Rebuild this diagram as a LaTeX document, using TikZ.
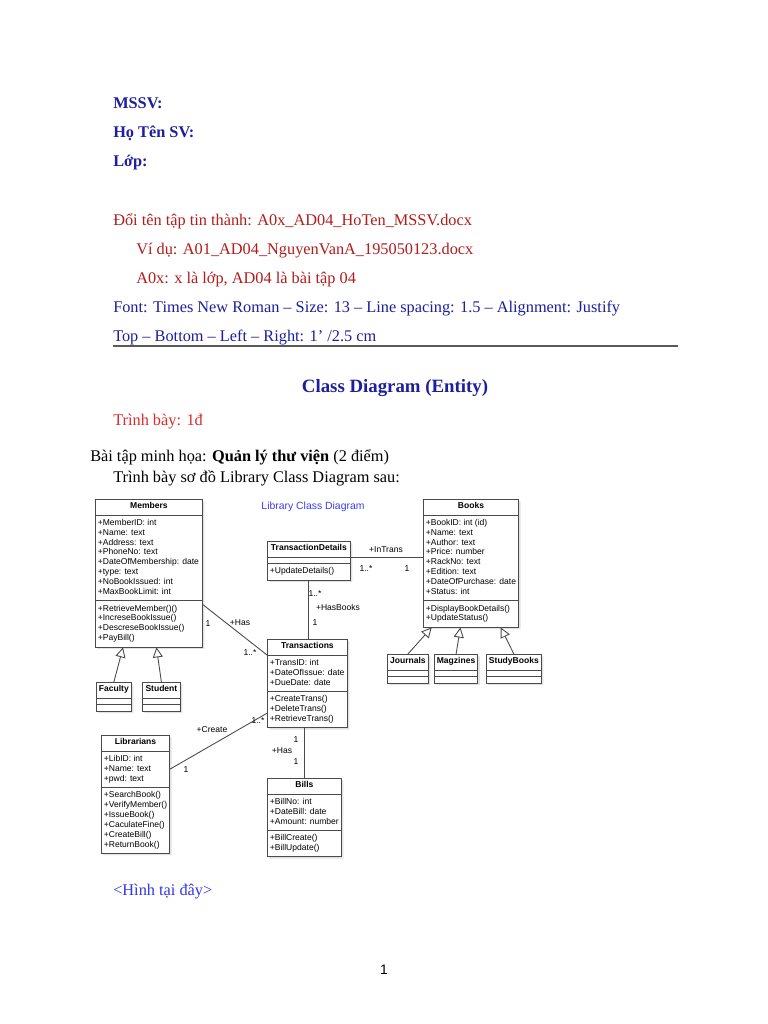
\documentclass[tikz,border=0pt]{standalone}
\usepackage{fontspec}
\setmainfont{Liberation Serif}
\newfontfamily\umlsans{Liberation Sans}
\usepackage{tikz}
\usetikzlibrary{
    arrows.meta,
    calc,
    positioning,
    shadows,
    shapes.multipart
}
\definecolor{docblue}{HTML}{1E1E9E}
\definecolor{docred}{HTML}{B21C1C}
\definecolor{hintred}{HTML}{E02A2A}
\definecolor{linkblue}{HTML}{3535E8}
\definecolor{diagblue}{HTML}{3C3CF5}
\definecolor{umlgray}{HTML}{4A4A4A}
\newcommand{\umlfont}{\umlsans\fontsize{6.8}{7.9}\selectfont}
\newcommand{\classhead}[1]{\rule[-2.3pt]{0pt}{7pt}\textbf{#1}}
\newcommand{\umlrows}[1]{\begin{tabular}{@{}l@{}}#1\end{tabular}}
\newcommand{\blankpart}{\rule{1pt}{0pt}}
\tikzstyle{assoc}=[draw=umlgray,line width=0.7pt]
\tikzstyle{inherit}=[draw=umlgray,line width=0.7pt,-{Triangle[open,length=8pt,width=8pt]}]

\begin{document}
\begin{tikzpicture}[
    x=0.797pt, y=-0.797pt,
    umlclass/.style={
        rectangle split,
        rectangle split parts=3,
        rectangle split part align={center,left,left},
        draw=umlgray,
        fill=white,
        line width=0.6pt,
        inner xsep=2pt,
        inner ysep=2.3pt,
        anchor=north west,
        font=\umlfont,
        drop shadow={shadow xshift=1.6pt,shadow yshift=-1.6pt,fill=black!22}
    },
    doctext/.style={
        anchor=base west,
        inner sep=0pt,
        font=\fontsize{13}{15}\selectfont
    },
    mult/.style={inner sep=0.5pt,font=\umlfont}
]
\useasboundingbox (0,0) rectangle (768,1024);
\fill[white] (0,0) rectangle (768,1024);

% header of the page
\node[doctext,text=docblue,font=\fontsize{13}{15}\selectfont\bfseries] (mssv) at (113,108) {MSSV:};
\node[doctext,text=docblue,font=\fontsize{13}{15}\selectfont\bfseries] (hoten) at (113,137) {Họ Tên SV:};
\node[doctext,text=docblue,font=\fontsize{13}{15}\selectfont\bfseries] (lop) at (113,166) {Lớp:};
\node[doctext,text=docred] (rename) at (113,225) {Đổi tên tập tin thành: A0x\_AD04\_HoTen\_MSSV.docx};
\node[doctext,text=docred] (example) at (136,254) {Ví dụ: A01\_AD04\_NguyenVanA\_195050123.docx};
\node[doctext,text=docred] (meaning) at (136,283) {A0x: x là lớp, AD04 là bài tập 04};
\node[doctext,text=docblue] (fontrule) at (113,312) {Font: Times New Roman – Size: 13 – Line spacing: 1.5 – Alignment: Justify};
\node[doctext,text=docblue] (margins) at (113,341) {Top – Bottom – Left – Right: 1’ /2.5 cm};
\coordinate (ruleL) at (113,346);
\coordinate (ruleR) at (678,346);
\draw[line width=1.4pt,draw=black!65] (ruleL) -- (ruleR);

\node[anchor=base,inner sep=0pt,text=docblue,font=\fontsize{15}{17}\selectfont\bfseries] (title) at (395,392) {Class Diagram (Entity)};
\node[doctext,text=hintred] (score) at (113,425) {Trình bày: 1đ};
\node[doctext] (task) at (90,461) {Bài tập minh họa: \textbf{Quản lý thư viện} (2 điểm)};
\node[doctext] (taskline) at (113,482) {Trình bày sơ đồ Library Class Diagram sau:};

% the class diagram
\node[inner sep=0pt,text=diagblue,font=\umlsans\fontsize{8.3}{10}\selectfont] (diagname) at (313,507) {Library Class Diagram};

\node[umlclass,minimum width=85.3pt] (members) at (95,499)
{\classhead{Members}
\nodepart{two}\umlrows{+MemberID: int\\+Name: text\\+Address: text\\+PhoneNo: text\\+DateOfMembership: date\\+type: text\\+NoBookIssued: int\\+MaxBookLimit: int}
\nodepart{three}\umlrows{+RetrieveMember()()\\+IncreseBookIssue()\\+DescreseBookIssue()\\+PayBill()}};

\node[umlclass,minimum width=66.2pt] (details) at (267,541)
{\classhead{TransactionDetails}
\nodepart{two}\blankpart
\nodepart{three}\umlrows{+UpdateDetails()}};

\node[umlclass,minimum width=74.9pt] (books) at (423,499)
{\classhead{Books}
\nodepart{two}\umlrows{+BookID: int (id)\\+Name: text\\+Author: text\\+Price: number\\+RackNo: text\\+Edition: text\\+DateOfPurchase: date\\+Status: int}
\nodepart{three}\umlrows{+DisplayBookDetails()\\+UpdateStatus()}};

\node[umlclass,minimum width=32.7pt] (journals) at (387,654) {\classhead{Journals}\nodepart{two}\blankpart\nodepart{three}\blankpart};
\node[umlclass,minimum width=34.3pt] (magzines) at (434,654) {\classhead{Magzines}\nodepart{two}\blankpart\nodepart{three}\blankpart};
\node[umlclass,minimum width=43.8pt] (studybooks) at (486,654) {\classhead{StudyBooks}\nodepart{two}\blankpart\nodepart{three}\blankpart};

\node[umlclass,minimum width=27.9pt] (faculty) at (96,682) {\classhead{Faculty}\nodepart{two}\blankpart\nodepart{three}\blankpart};
\node[umlclass,minimum width=30.3pt] (student) at (142,682) {\classhead{Student}\nodepart{two}\blankpart\nodepart{three}\blankpart};

\node[umlclass,minimum width=63.8pt] (transactions) at (267,639)
{\classhead{Transactions}
\nodepart{two}\umlrows{+TransID: int\\+DateOfIssue: date\\+DueDate: date}
\nodepart{three}\umlrows{+CreateTrans()\\+DeleteTrans()\\+RetrieveTrans()}};

\node[umlclass,minimum width=54.2pt] (librarians) at (101,735)
{\classhead{Librarians}
\nodepart{two}\umlrows{+LibID: int\\+Name: text\\+pwd: text}
\nodepart{three}\umlrows{+SearchBook()\\+VerifyMember()\\+IssueBook()\\+CaculateFine()\\+CreateBill()\\+ReturnBook()}};

\node[umlclass,minimum width=59pt] (bills) at (267,778)
{\classhead{Bills}
\nodepart{two}\umlrows{+BillNo: int\\+DateBill: date\\+Amount: number}
\nodepart{three}\umlrows{+BillCreate()\\+BillUpdate()}};

% associations
\draw[assoc] ([yshift=-3pt]members.two split east) -- (transactions.text split west)
    node[mult] at (208,624) {1}
    node[mult] at (240,623) {+Has}
    node[mult] at (250,653) {1..*};
\draw[assoc] (details.south) -- (details.south |- transactions.north)
    node[mult] at (315,594) {1..*}
    node[mult] at (338,607) {+HasBooks}
    node[mult] at (315,623) {1};
\draw[assoc] (details.text split east) -- (details.text split east -| books.west)
    node[mult] at (386,550) {+InTrans}
    node[mult] at (366,569) {1..*}
    node[mult] at (407,569) {1};
\draw[assoc] ($(librarians.text split east)!0.5!(librarians.two split east)$)
    -- ($(transactions.two split west)!0.6!(transactions.south west)$)
    node[mult] at (212,730) {+Create}
    node[mult] at (258,721) {1..*}
    node[mult] at (186,770) {1};
\draw[assoc] (bills.north |- transactions.south) -- (bills.north)
    node[mult] at (296,740) {1}
    node[mult] at (282,751) {+Has}
    node[mult] at (296,762) {1};

% generalisations
\draw[inherit] (faculty.north) -- ($(members.south west)!0.26!(members.south east)$);
\draw[inherit] (student.north) -- ($(members.south west)!0.57!(members.south east)$);
\draw[inherit] (journals.north) -- ($(books.south west)!0.09!(books.south east)$);
\draw[inherit] (magzines.north) -- ($(books.south west)!0.39!(books.south east)$);
\draw[inherit] (studybooks.north) -- ($(books.south west)!0.81!(books.south east)$);

\node[doctext,text=linkblue] (placeholder) at (113,895) {<Hình tại đây>};
\node[anchor=base,inner sep=0pt,font=\umlsans\fontsize{11}{13}\selectfont] (pagenum) at (384,974) {1};
\end{tikzpicture}
\end{document}
